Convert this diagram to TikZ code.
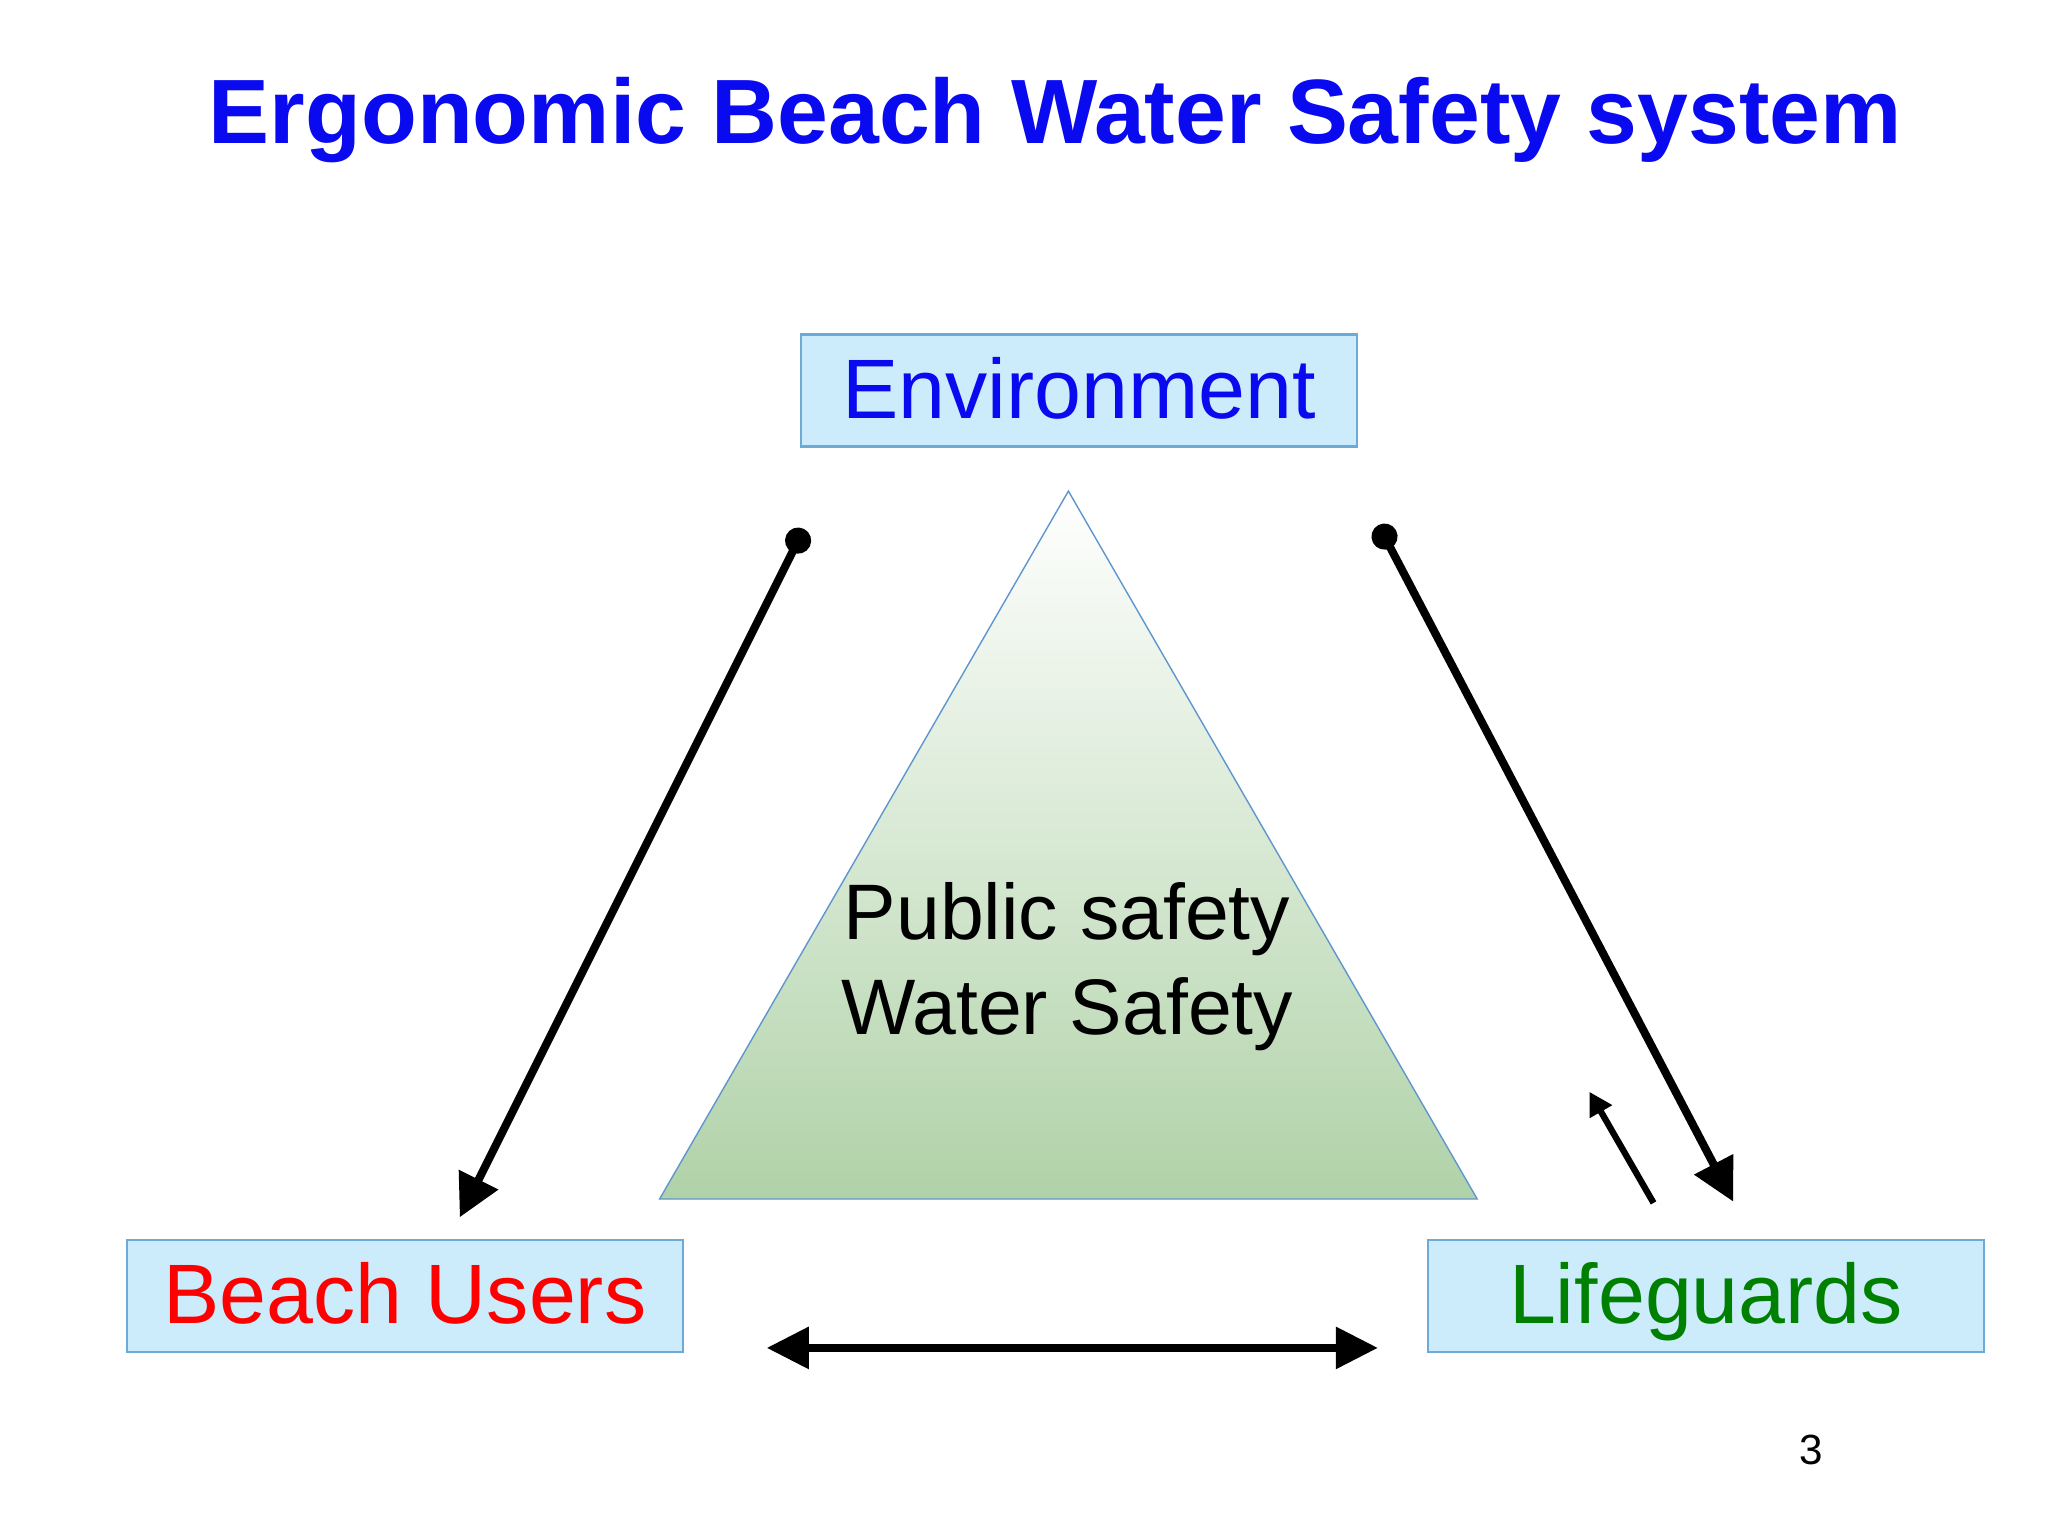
\documentclass[tikz,border=0pt]{standalone}
\usepackage{fontspec}
\setmainfont{Liberation Sans}
\usetikzlibrary{arrows.meta, positioning}

\definecolor{boxfill}{RGB}{204,236,252}
\definecolor{boxline}{RGB}{110,170,215}
\definecolor{trigreen}{RGB}{176,210,168}
\definecolor{triline}{RGB}{95,150,205}
\definecolor{titleblue}{RGB}{10,10,240}
\definecolor{guardgreen}{RGB}{0,128,0}

\begin{document}
\begin{tikzpicture}[
  x=0.01306cm, y=-0.01306cm,
  box/.style={draw=boxline, fill=boxfill, line width=0.6pt, inner sep=0pt,
              minimum width=5.56cm, minimum height=1.12cm,
              text height=18pt, text depth=2pt, font=\fontsize{24}{28}\selectfont},
  heading/.style={anchor=base, text=titleblue, font=\fontsize{26}{30}\selectfont\bfseries},
  lab/.style={align=center, font=\fontsize{22.4}{27}\selectfont},
  link/.style={line width=2.3pt, {Circle[length=7.4pt]}-{Triangle[length=12pt, width=12pt]}},
  both/.style={line width=2.3pt, {Triangle[length=12pt, width=11.5pt]}-{Triangle[length=12pt, width=11.5pt]}},
  back/.style={line width=1.8pt, -{Triangle[length=6.5pt, width=7pt]}}
]
\useasboundingbox (0,0) rectangle (1568,1176);

\node[heading] (title) at (808,110) {Ergonomic Beach Water Safety system};

\node[box, text=titleblue] (env) at (826,299) {Environment};
\node[box, text=red] (users) at (310,992) {Beach Users};
\node[box, text=guardgreen, right=7.43cm of users] (guards) {Lifeguards};

% the centre triangle
\shade[top color=white, bottom color=trigreen, draw=triline, line width=0.4pt]
  (818,376) -- (1131,918) -- (505,918) -- cycle;
\node[lab] (safety) at (817,740) {Public safety\\Water Safety};

\coordinate (envl) at (615.5,405);
\coordinate (envr) at (1055.4,402);
\coordinate (usertip) at (352,932);
\coordinate (guardtip) at (1327,920);
\coordinate (fbfrom) at (1266,921);
\coordinate (fbto) at (1217,836);
\coordinate (hl) at (587,1032);
\coordinate (hr) at (1055,1032);

\draw[link] (envl) -- (usertip);
\draw[link] (envr) -- (guardtip);
\draw[back] (fbfrom) -- (fbto);
\draw[both] (hl) -- (hr);

\node[font=\fontsize{12}{14}\selectfont] (page) at (1387,1110) {3};
\end{tikzpicture}
\end{document}
